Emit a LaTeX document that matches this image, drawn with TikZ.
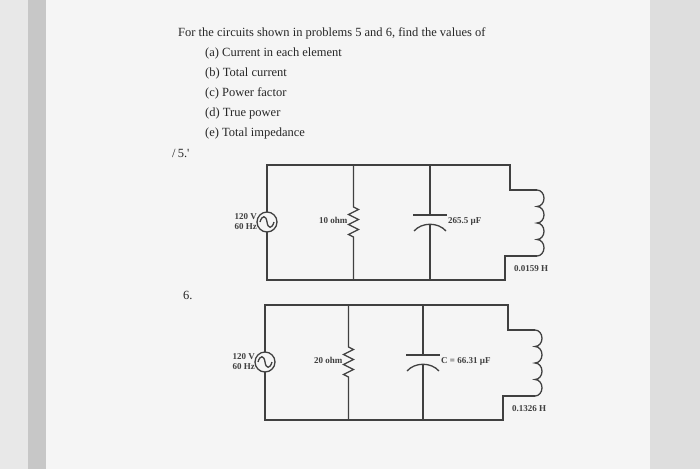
\documentclass[tikz,border=0pt]{standalone}
\usepackage{fontspec}
\setmainfont{Liberation Serif}
\begin{document}
\begin{tikzpicture}[x=1pt,y=-1pt,
  w/.style={line width=1.3pt,color=black!75},
  txt/.style={anchor=west,inner sep=0,font=\fontsize{12.5}{13}\selectfont,text=black!85},
  lab/.style={inner sep=0,font=\fontsize{9}{10}\selectfont,text=black!75}]
\useasboundingbox (0,0) rectangle (700,469);
\fill[black!9] (0,0) rectangle (700,469);
\fill[black!22] (28,0) rectangle (46,469);
\fill[black!13] (650,0) rectangle (700,469);
\fill[black!4] (46,0) rectangle (650,469);
\node[txt] (t0) at (178,33) {For the circuits shown in problems 5 and 6, find the values of};
\node[txt] (t1) at (205,53) {(a) Current in each element};
\node[txt] (t2) at (205,73) {(b) Total current};
\node[txt] (t3) at (205,93) {(c) Power factor};
\node[txt] (t4) at (205,113) {(d) True power};
\node[txt] (t5) at (205,133) {(e) Total impedance};
\node[txt] (p5) at (172,153) {/\,5.\textquotesingle};
\node[txt] (p6) at (183,295) {6.};
\foreach \ox/\oy/\r/\c/\l/\rv/\cv in {0/0/10 ohm/265.5 µF/0.0159 H/353.5/430, -2/140/20 ohm/C = 66.31 µF/0.1326 H/350.5/425}{
 \begin{scope}[shift={(\ox,\oy)}]
 \coordinate (tl) at (267,165); \coordinate (bl) at (267,280);
 \draw[w] (267,212) -- (tl) -- (510,165) -- (510,190) -- (537,190);
 \draw[w] (267,232) -- (bl) -- (505,280) -- (505,256) -- (537,256);
 \node[draw,circle,w,minimum size=20pt,inner sep=0] (src) at (267,222) {};
 \draw[w] (260,222) .. controls (262,215) and (266,215) .. (267,222) .. controls (268,229) and (272,229) .. (274,222);
 \node[lab,anchor=east,align=right] (sl) at (257,222) {\textbf{120 V}\\\textbf{60 Hz}};
 \draw[w] (\rv,165) -- (\rv,207) -- (\rv+5,209.5) -- (\rv-5,214.5) -- (\rv+5,219.5) -- (\rv-5,224.5) -- (\rv+5,229.5) -- (\rv-5,234.5) -- (\rv,237) -- (\rv,280);
 \node[lab,anchor=east] (rl) at (\rv-6,220) {\textbf{\r}};
 \draw[w] (\cv,165) -- (\cv,215); \draw[w] (\cv-17,215) -- (\cv+17,215);
 \draw[w] (\cv-16,231) .. controls (\cv-8,222) and (\cv+8,222) .. (\cv+16,231);
 \draw[w] (\cv,225) -- (\cv,280);
 \node[lab,anchor=west] (cl) at (\cv+18,221) {\textbf{\c}};
 \draw[w] (537,190) arc(-90:90:7 and 8.25) arc(-90:90:7 and 8.25) arc(-90:90:7 and 8.25) arc(-90:90:7 and 8.25);
 \node[lab,anchor=west] (ll) at (514,269) {\textbf{\l}};
 \end{scope}}
\end{tikzpicture}
\end{document}
